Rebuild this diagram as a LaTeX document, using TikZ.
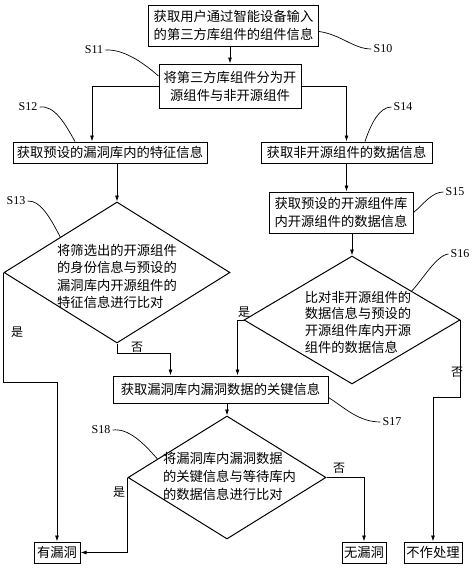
\documentclass[tikz,border=0pt]{standalone}
\usepackage{fontspec}
\setmainfont{Noto Sans CJK SC}
\newfontfamily\latfont{Liberation Serif}
\usetikzlibrary{shapes.geometric,arrows.meta,calc}
\begin{document}
\begin{tikzpicture}[x=1pt,y=-1pt,
  box/.style={draw, line width=1pt, inner sep=2pt, align=center, font=\fontsize{13.3}{18}\selectfont},
  dia/.style={draw, diamond, line width=1pt, inner sep=0pt},
  dtext/.style={align=left, inner sep=0pt, font=\fontsize{13.3}{17.6}\selectfont},
  arr/.style={line width=0.8pt, -{Latex[length=6pt,width=4pt]}},
  lead/.style={line width=0.7pt},
  stag/.style={font=\latfont\fontsize{12}{14}\selectfont, inner sep=0pt},
  yn/.style={font=\fontsize{12}{14}\selectfont, inner sep=0pt}]
\fill[white] (0,0) rectangle (474,568);
\useasboundingbox (0,0) rectangle (474,568);

% boxes
\node[box, minimum width=170pt, minimum height=41pt] (S10) at (233.5,25.5) {获取用户通过智能设备输入\\的第三方库组件的组件信息};
\node[box, minimum width=142pt, minimum height=44pt] (S11) at (230,86) {将第三方库组件分为开\\源组件与非开源组件};
\node[box, minimum width=194pt, minimum height=21pt] (S12) at (110,152.5) {获取预设的漏洞库内的特征信息};
\node[box, minimum width=171pt, minimum height=21pt] (S14) at (346.5,152.5) {获取非开源组件的数据信息};
\node[box, minimum width=144pt, minimum height=41pt] (S15) at (341,212.5) {获取预设的开源组件库\\内开源组件的数据信息};
\node[dia, minimum width=226pt, minimum height=141pt] (S13) at (117,272.5) {};
\node[dtext] (S13t) at (117,276.5) {将筛选出的开源组件\\的身份信息与预设的\\漏洞库内开源组件的\\特征信息进行比对};
\node[dia, minimum width=216pt, minimum height=128pt] (S16) at (352,320) {};
\node[dtext, font=\fontsize{13.3}{16.7}\selectfont] (S16t) at (358,322) {比对非开源组件的\\数据信息与预设的\\开源组件库内开源\\组件的数据信息};
\node[box, minimum width=215pt, minimum height=27pt] (S17) at (220.5,389.5) {获取漏洞库内漏洞数据的关键信息};
\node[dia, minimum width=198pt, minimum height=123pt] (S18) at (227,477.5) {};
\node[dtext] (S18t) at (229.5,476.5) {将漏洞库内漏洞数据\\的关键信息与等待库内\\的数据信息进行比对};
\node[box, minimum width=46pt, minimum height=21pt] (yl) at (57,552.5) {有漏洞};
\node[box, minimum width=44pt, minimum height=21pt] (wl) at (364,552.5) {无漏洞};
\node[box, minimum width=58pt, minimum height=21pt] (bz) at (433,552.5) {不作处理};

% connectors
\draw[arr] (S10.south -| S11.north) -- (S11.north);
\draw[arr] (S11.west) -| ([xshift=-18pt]S12.north);
\draw[arr] (S11.east) -| (S14.north);
\draw[arr] (S12.south -| S13.north) -- (S13.north);
\draw[arr] (S14.south) -- (S14.south |- S15.north);
\draw[arr] (S15.south -| S16.north) -- (S16.north);
\draw[arr] (S13.west) -- ++(0,110) -| (yl.north);
\draw[arr] (S13.south) -- ++(0,10) -| ([xshift=-50pt]S17.north);
\draw[arr] (S16.west) -| ([xshift=17pt]S17.north);
\draw[arr] (S16.east) -- ++(0,77) -| (bz.north);
\draw[arr] (S17.south -| S18.north) -- (S18.north);
\draw[arr] (S18.west) |- (yl.east);
\draw[arr] (S18.east) -| (wl.north);

% yes / no
\node[yn] (y13) at (17,332) {是};
\node[yn] (n13) at (137,347) {否};
\node[yn] (y16) at (244,312) {是};
\node[yn] (n16) at (457,372) {否};
\node[yn] (y18) at (119,492) {是};
\node[yn] (n18) at (339,468) {否};

% step tags
\node[stag] (L10) at (383,49) {S10};
\node[stag] (L11) at (94,50) {S11};
\node[stag] (L12) at (28,107) {S12};
\node[stag] (L14) at (403,107) {S14};
\node[stag] (L15) at (455,192) {S15};
\node[stag] (L16) at (460,254) {S16};
\node[stag] (L13) at (16,201) {S13};
\node[stag] (L17) at (392,422) {S17};
\node[stag] (L18) at (101,430) {S18};

\draw[lead] ([yshift=-6pt]S10.east) .. controls +(22,3) and +(-18,0) .. ([xshift=-2pt]L10.west);
\draw[lead] ([xshift=2pt]L11.east) .. controls +(18,-1) and +(-16,-14) .. ([yshift=10pt]S11.west);
\draw[lead] ([xshift=2pt]L12.east) .. controls +(15,-2) and +(-10,-18) .. ([xshift=-35pt]S12.north);
\draw[lead] ([xshift=-2pt]L14.west) .. controls +(-12,0) and +(6,-18) .. ([xshift=18.5pt]S14.north);
\draw[lead] ([xshift=-2pt]L15.west) .. controls +(-12,0) and +(10,-8) .. (S15.east);
\draw[lead] ([xshift=-2pt]L16.west) .. controls +(-12,1) and +(10,-10) .. ($(S16.north)!0.55!(S16.east)$);
\draw[lead] ([xshift=2pt]L13.east) .. controls +(14,-1) and +(-8,-15) .. ($(S13.north)!0.5!(S13.west)$);
\draw[lead] ([yshift=-8pt]S17.east) .. controls +(16,10) and +(-22,0) .. ([xshift=-2pt]L17.west);
\draw[lead] ([xshift=2pt]L18.east) .. controls +(16,-2) and +(-14,-16) .. ($(S18.north)!0.7!(S18.west)$);
\end{tikzpicture}
\end{document}
